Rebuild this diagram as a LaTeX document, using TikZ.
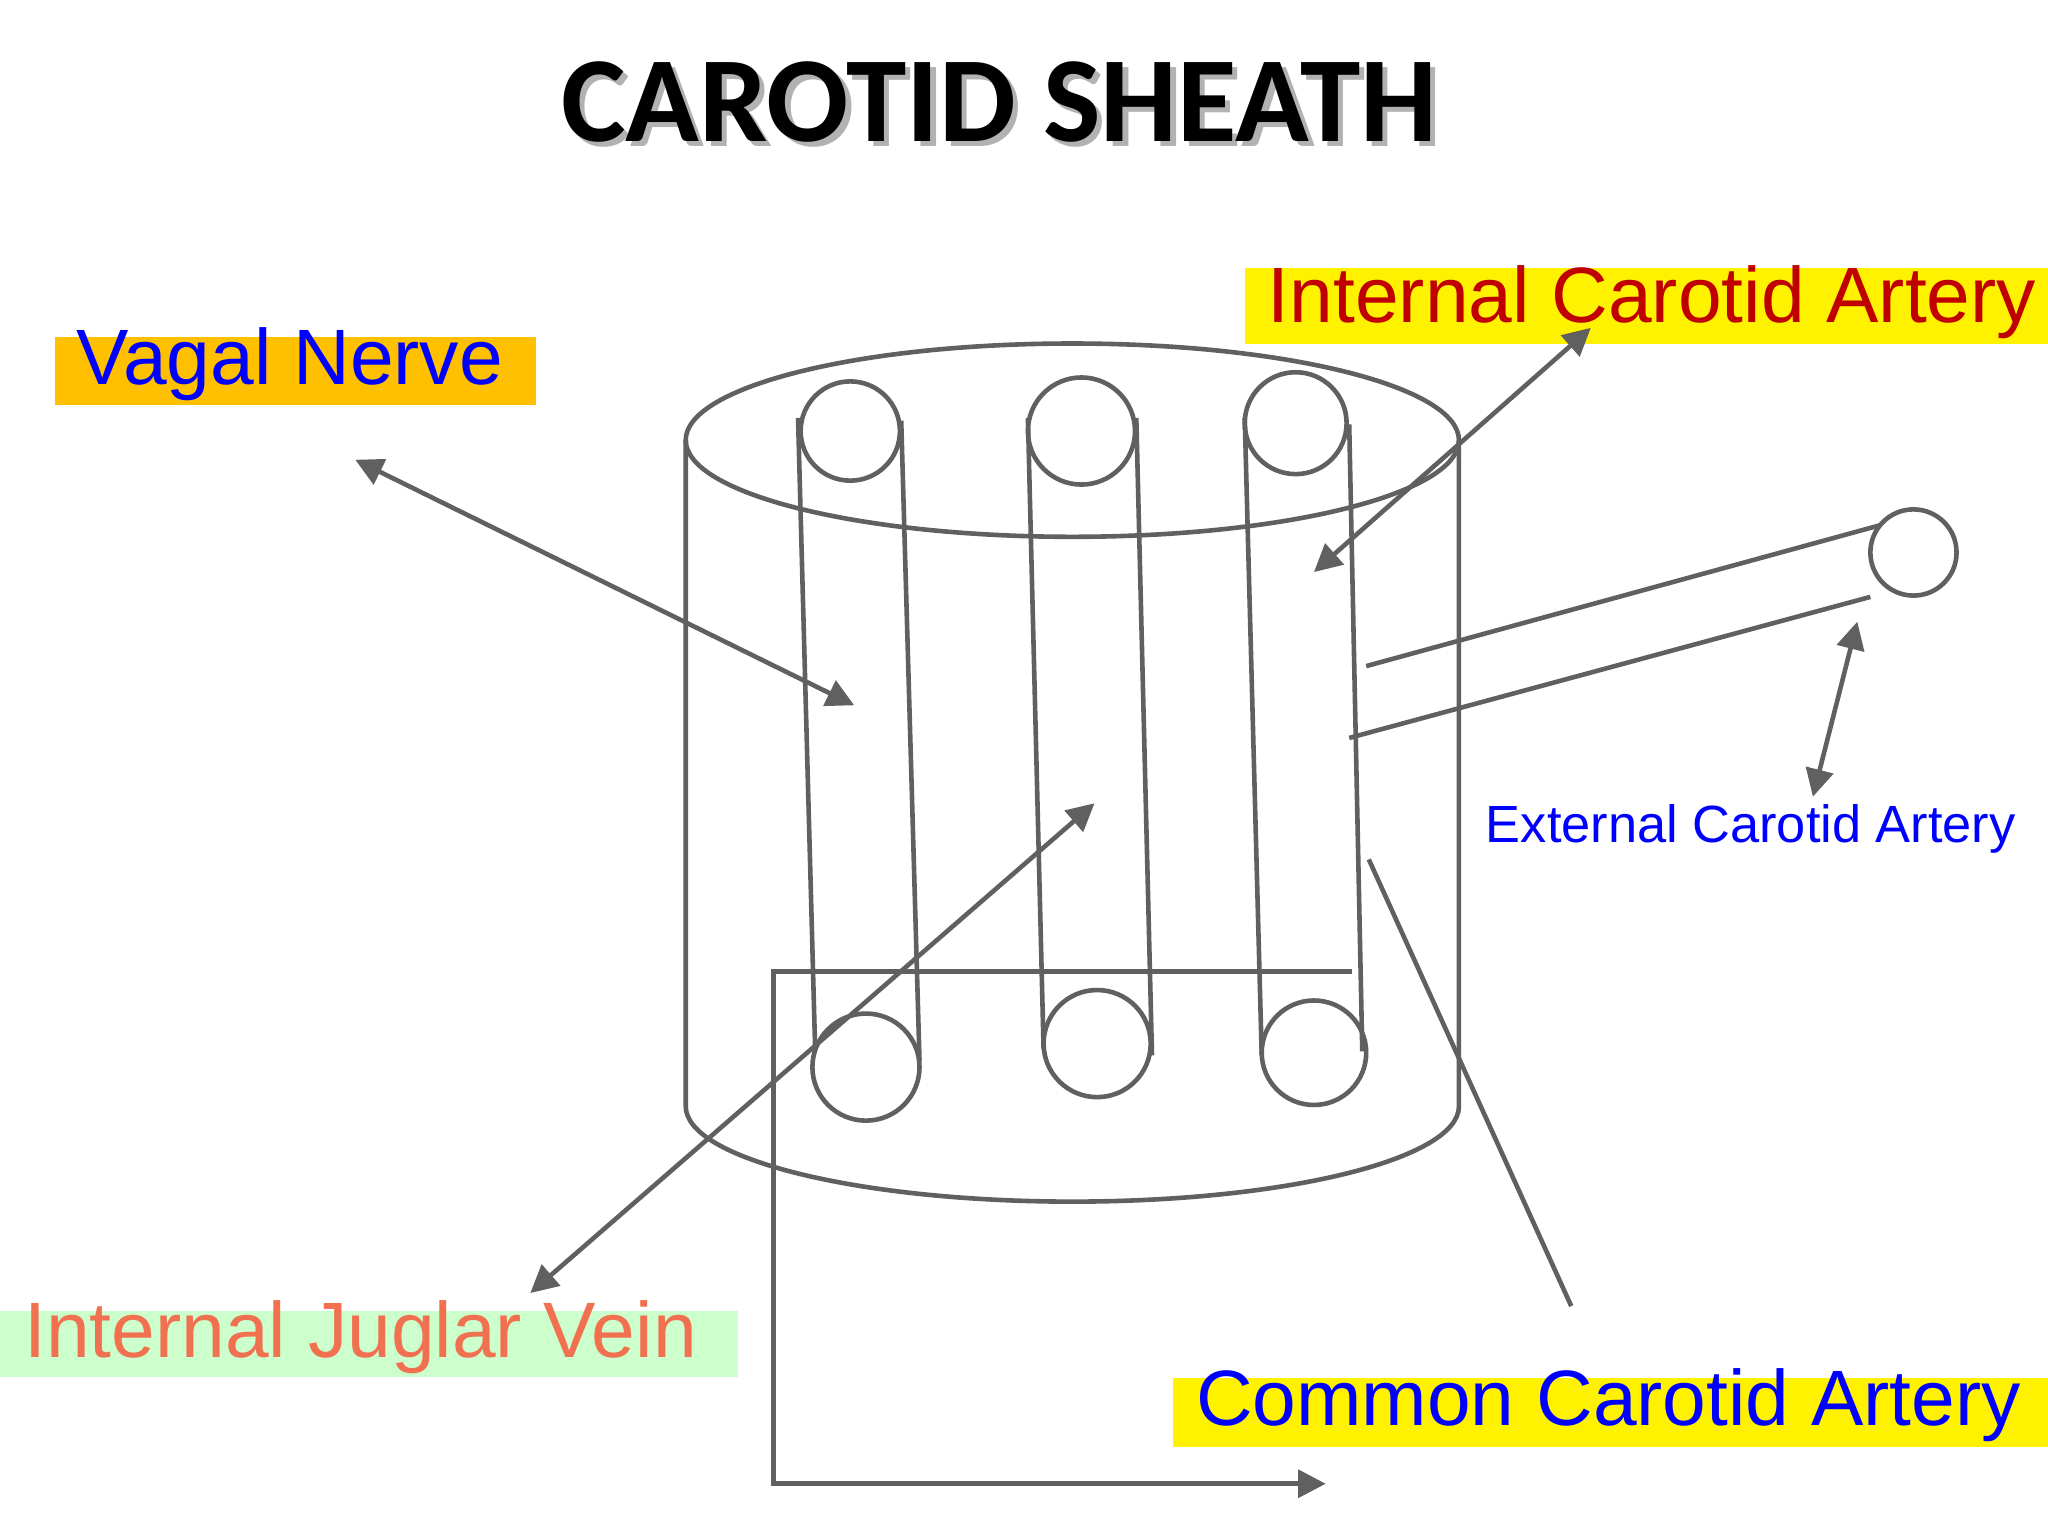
\documentclass[tikz,border=0pt]{standalone}
\usepackage{fontspec}
\setmainfont{Liberation Sans}
\newfontfamily\titlefont{Carlito}
\usetikzlibrary{arrows.meta}
\definecolor{ln}{HTML}{606060}
\definecolor{orangebg}{HTML}{FFC000}
\definecolor{yelbg}{HTML}{FFF200}
\definecolor{greenbg}{HTML}{CCFFCC}
\definecolor{darkred}{HTML}{C00000}
\definecolor{salmon}{HTML}{F07050}
\definecolor{lblue}{HTML}{0000FF}
\begin{document}
\begin{tikzpicture}[x=0.01cm,y=-0.01cm,
  sk/.style={draw=ln,line width=1pt},
  arr/.style={sk,-{Triangle[length=6pt,width=6pt]}},
  darr/.style={sk,{Triangle[length=6pt,width=6pt]}-{Triangle[length=6pt,width=6pt]}},
  tube/.style={sk,circle,minimum size=#1*0.01cm,inner sep=0pt},
  lab/.style={font=\fontsize{17.1}{19}\selectfont,inner sep=0pt,anchor=west}]
\useasboundingbox (0,0) rectangle (1568,1176);
% title
\node[font=\titlefont\bfseries\fontsize{26.5}{30}\selectfont,text=gray!60] at (769,82) {CAROTID SHEATH};
\node[font=\titlefont\bfseries\fontsize{26.5}{30}\selectfont] (title) at (765,78) {CAROTID SHEATH};
% cylinder
\draw[sk] (821,337) ellipse [x radius=296,y radius=74];
\draw[sk] (525,337) -- (525,847) arc[start angle=180,end angle=0,x radius=296,y radius=73] -- (1117,337);
% circles
\node[tube=76] (t1) at (651,330) {};
\node[tube=82] (t2) at (828,330) {};
\node[tube=78] (t3) at (992,324) {};
\node[tube=82] (b1) at (663,817) {};
\node[tube=82] (b2) at (840,799) {};
\node[tube=80] (b3) at (1006,806) {};
\node[tube=66] (ec) at (1465,423) {};
% vertical lines
\draw[sk] (611,320)--(624,800); \draw[sk] (690,322)--(704,812);
\draw[sk] (787,320)--(799,803); \draw[sk] (870,320)--(882,808);
\draw[sk] (953,320)--(966,808); \draw[sk] (1033,325)--(1043,805);
% external carotid tube
\draw[sk] (1046,510)--(1440,402);
\draw[sk] (1033,565)--(1432,457);
% labels
\fill[orangebg] (42,258) rectangle (410,310);
\node[lab,text=lblue] (vn) at (58,279) {Vagal Nerve};
\fill[yelbg] (953,205) rectangle (1568,263);
\node[lab,text=darkred] (ica) at (970,231) {Internal Carotid Artery};
\node[lab,font=\fontsize{11.4}{14}\selectfont,text=lblue] (eca) at (1137,635) {External Carotid Artery};
\fill[greenbg] (0,1004) rectangle (565,1054);
\node[lab,text=salmon] (ijv) at (18,1024) {Internal Juglar Vein};
\fill[yelbg] (898,1055) rectangle (1568,1108);
\node[lab,text=lblue] (cca) at (915,1076) {Common Carotid Artery};
% connectors
\coordinate (v1) at (272,352); \coordinate (v2) at (654,540);
\draw[darr] (v1)--(v2);
\coordinate (i1) at (1218,251); \coordinate (i2) at (1006,438);
\draw[darr] (i1)--(i2);
\coordinate (j1) at (838,615); \coordinate (j2) at (406,990);
\draw[darr] (j1)--(j2);
\coordinate (e1) at (1422,476); \coordinate (e2) at (1388,610);
\draw[darr] (e1)--(e2);
\coordinate (c1) at (1048,658); \coordinate (c2) at (1203,1000);
\draw[sk] (c1)--(c2);
\coordinate (p1) at (1035,744); \coordinate (p2) at (592,744);
\coordinate (p3) at (592,1136); \coordinate (p4) at (1015,1136);
\draw[arr] (p1)--(p2)--(p3)--(p4);
\end{tikzpicture}
\end{document}
